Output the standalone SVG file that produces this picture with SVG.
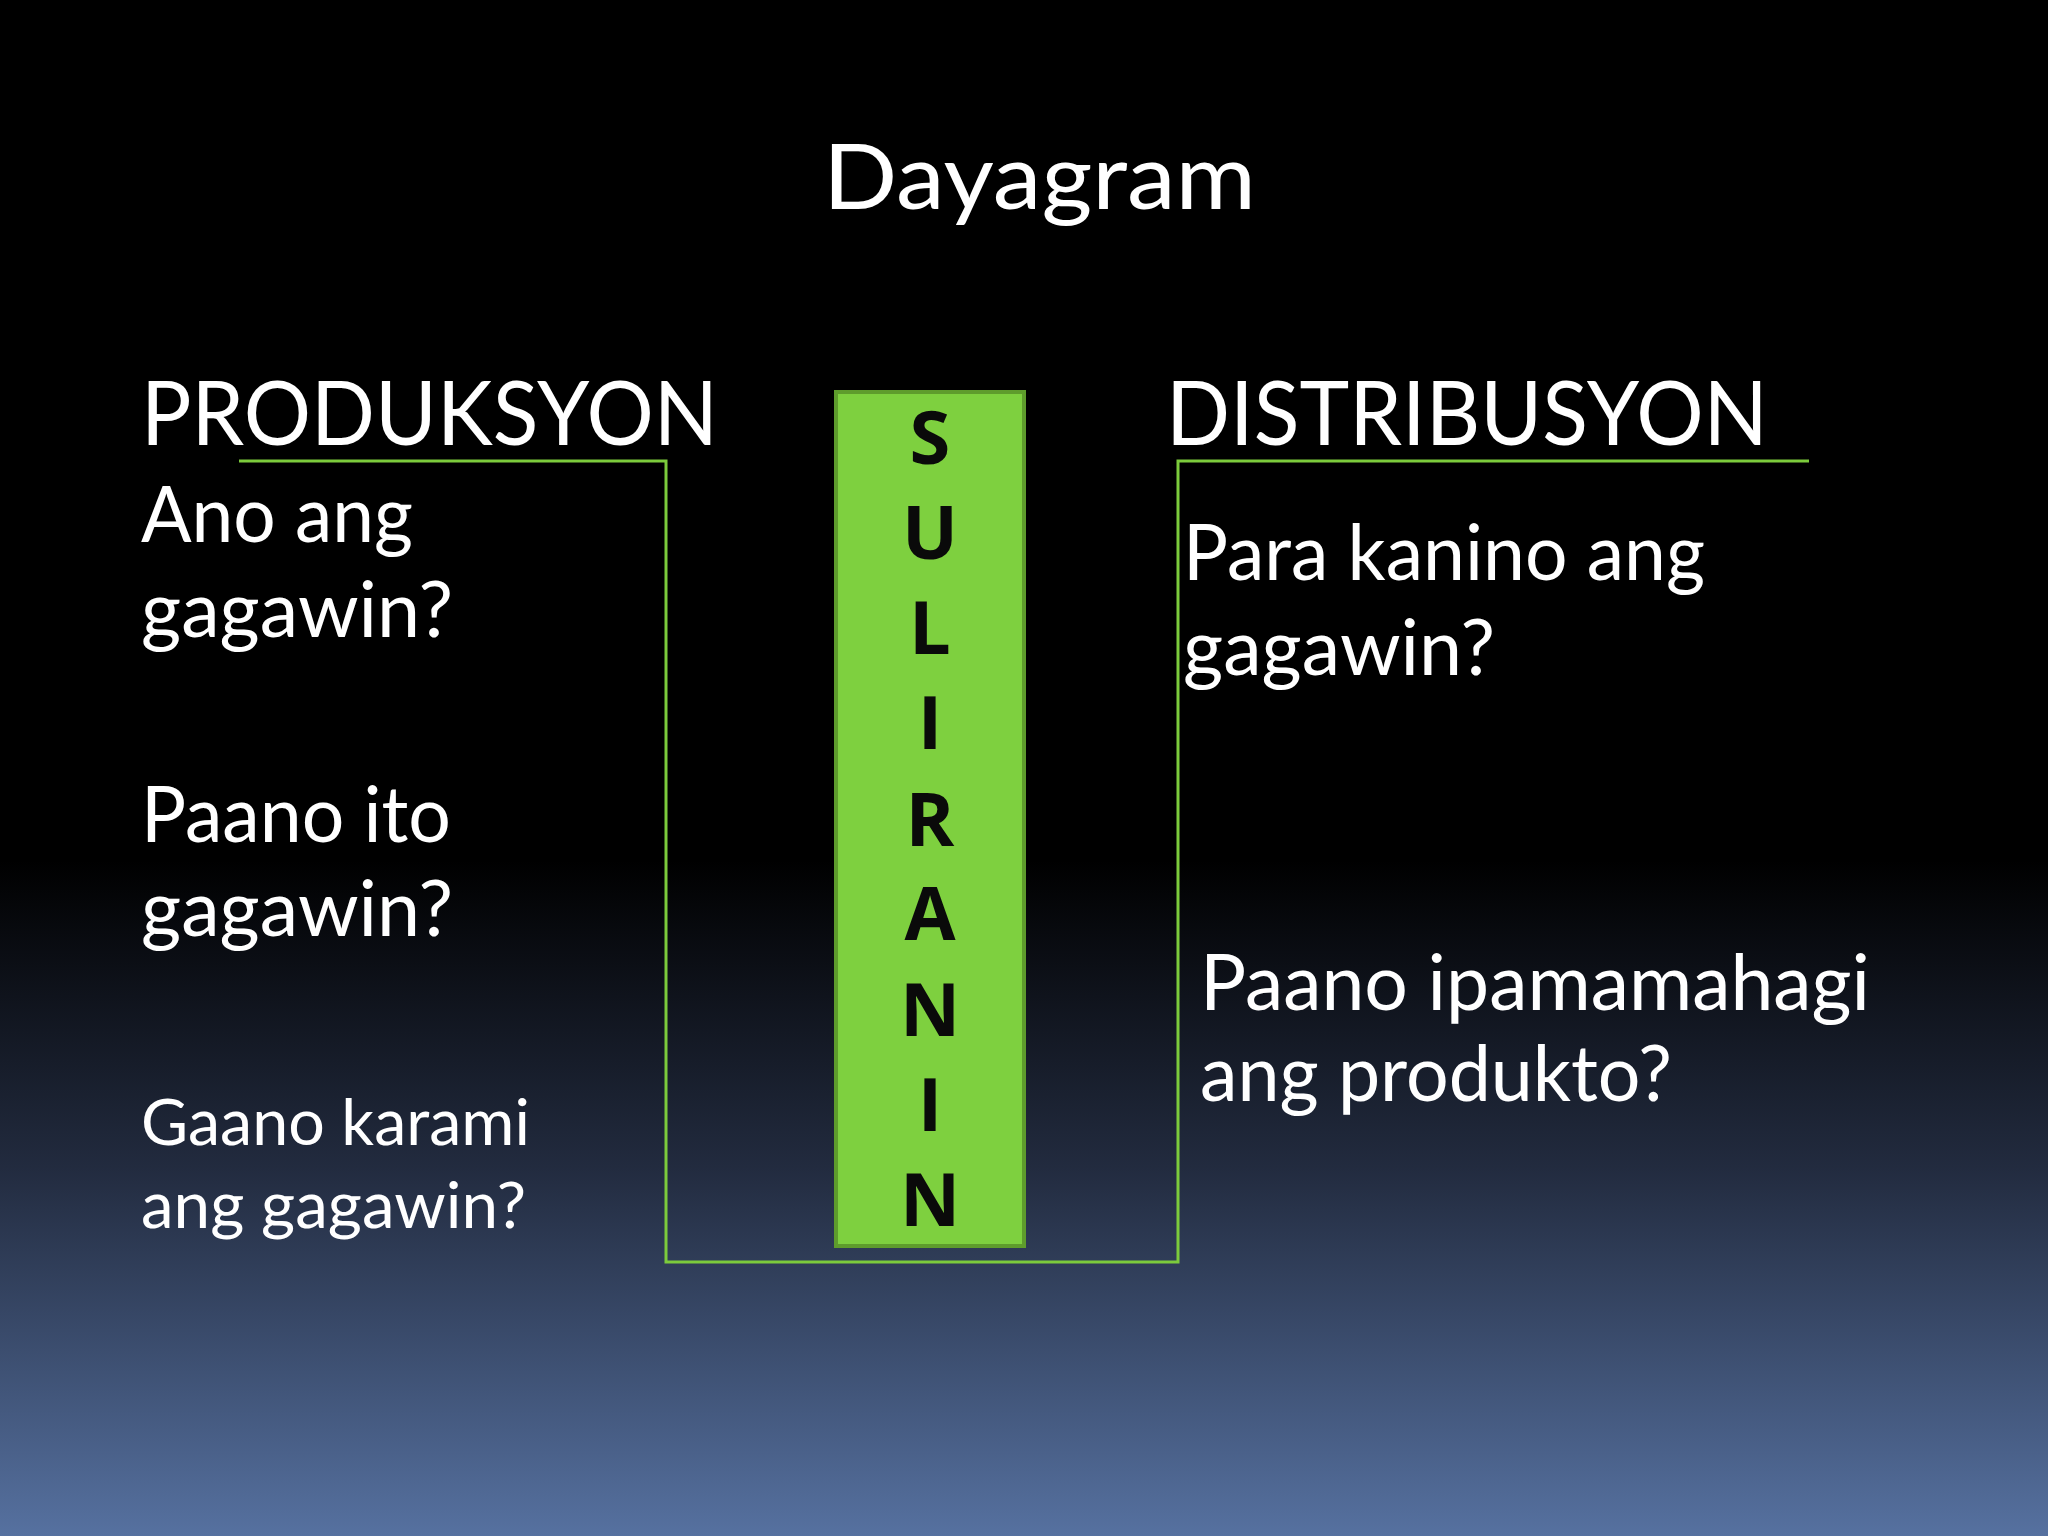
<svg xmlns="http://www.w3.org/2000/svg" width="2048" height="1536" viewBox="0 0 2048 1536">
<defs>
<linearGradient id="bg" x1="0" y1="0" x2="0" y2="1">
<stop offset="0" stop-color="#000000"/>
<stop offset="0.56" stop-color="#000000"/>
<stop offset="0.76" stop-color="#222b3f"/>
<stop offset="1" stop-color="#5671a0"/>
</linearGradient>
<style>
.t{font-family:Lato,"Open Sans","Liberation Sans",sans-serif;fill:#ffffff}
.h{font-size:90px}
.b{font-size:78px}
.s{font-size:64px}
.v{font-family:"Open Sans","Liberation Sans",sans-serif;font-weight:bold;font-size:74px;fill:#0a0a0a;text-anchor:middle}
.ln{fill:none;stroke:#7ccb3c;stroke-width:3}
</style>
</defs>
<rect x="0" y="0" width="2048" height="1536" fill="url(#bg)"/>
<g id="title"><text class="t" x="823" y="209" font-size="92" textLength="433" lengthAdjust="spacingAndGlyphs">Dayagram</text></g>
<g id="connectors">
<polyline class="ln" points="239,461 666,461 666,1262 1178,1262 1178,461 1809,461"/>
</g>
<g id="produksyon">
<text class="t h" x="141" y="445" textLength="577" lengthAdjust="spacingAndGlyphs">PRODUKSYON</text>
<text class="t b" x="141" y="542" textLength="272" lengthAdjust="spacingAndGlyphs">Ano ang</text>
<text class="t b" x="141" y="637" textLength="312" lengthAdjust="spacingAndGlyphs">gagawin?</text>
<text class="t b" x="141" y="842" textLength="310" lengthAdjust="spacingAndGlyphs">Paano ito</text>
<text class="t b" x="141" y="936" textLength="312" lengthAdjust="spacingAndGlyphs">gagawin?</text>
<text class="t s" x="141" y="1145" textLength="389" lengthAdjust="spacingAndGlyphs">Gaano karami</text>
<text class="t s" x="141" y="1228" textLength="385" lengthAdjust="spacingAndGlyphs">ang gagawin?</text>
</g>
<g id="distribusyon">
<text class="t h" x="1166" y="445" textLength="602" lengthAdjust="spacingAndGlyphs">DISTRIBUSYON</text>
<text class="t b" x="1183" y="580" textLength="522" lengthAdjust="spacingAndGlyphs">Para kanino ang</text>
<text class="t b" x="1183" y="675" textLength="312" lengthAdjust="spacingAndGlyphs">gagawin?</text>
<text class="t b" x="1200" y="1010" textLength="670" lengthAdjust="spacingAndGlyphs">Paano ipamamahagi</text>
<text class="t b" x="1200" y="1101" textLength="472" lengthAdjust="spacingAndGlyphs">ang produkto?</text>
</g>
<g id="suliranin">
<rect x="836" y="392" width="188" height="854" fill="#7ed03f" stroke="#5e9c2c" stroke-width="4"/>
<text class="v" x="930" y="464">S</text>
<text class="v" x="930" y="559">U</text>
<text class="v" x="930" y="654">L</text>
<text class="v" x="930" y="749">I</text>
<text class="v" x="930" y="846">R</text>
<text class="v" x="930" y="940">A</text>
<text class="v" x="930" y="1036">N</text>
<text class="v" x="930" y="1131">I</text>
<text class="v" x="930" y="1226">N</text>
</g>
</svg>
